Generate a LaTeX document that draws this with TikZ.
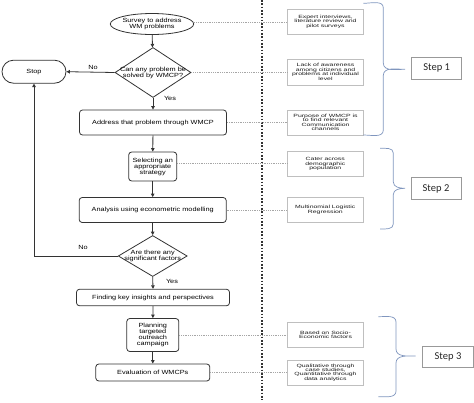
\documentclass[tikz,border=0pt]{standalone}
\usepackage{fontspec}
\usetikzlibrary{shapes.geometric,arrows.meta}
\newfontfamily\flowfont[FakeStretch=1.22]{Liberation Sans}
\newfontfamily\notefont[FakeStretch=1.5]{Liberation Sans}
\newfontfamily\stepfont{Carlito}
\definecolor{bracecol}{RGB}{128,150,190}
\begin{document}
\begin{tikzpicture}[x=1pt,y=-1pt,
  flowtext/.style={font={\flowfont\fontsize{6}{6}\selectfont}, text=black, align=center, inner sep=0pt},
  fbox/.style={flowtext, draw=black!80, line width=0.8pt, rounded corners=3pt},
  notebox/.style={draw=black!25, line width=0.6pt, minimum width=76, minimum height=25, inner sep=0pt, align=center,
    font={\notefont\fontsize{4.6}{4.45}\selectfont\lineskiplimit=-5pt\lineskip=0pt}, text=black!90},
  stepbox/.style={draw=black!40, line width=0.6pt, minimum width=50, minimum height=22, inner sep=0pt,
    font={\stepfont\fontsize{10.5}{12}\selectfont}, text=black!85},
  flowarrow/.style={draw=black!80, line width=0.8pt, -{Triangle[length=3.5pt,width=3.5pt]}},
  link/.style={draw=black!35, line width=0.5pt, dash pattern=on 0.8pt off 1pt},
  bracestyle/.style={draw=bracecol, line width=0.7pt},
  lbl/.style={font={\flowfont\fontsize{6}{6}\selectfont}, text=black, inner sep=0pt}
]
\useasboundingbox (0,0) rectangle (474,402);

% thick dotted divider
\coordinate (dtop) at (262,0);
\coordinate (dbot) at (262,400);
\draw[black!80, line width=1.6pt, dash pattern=on 1.6pt off 1.7pt] (dtop) -- (dbot);

% flowchart
\node[flowtext, draw=black!80, line width=0.8pt, ellipse, minimum width=63, minimum height=21] (survey) at (152,24) {Survey to address\\WM problems};
\node[draw=black!80, line width=0.8pt, diamond, minimum width=76, minimum height=50, inner sep=0pt] (d1) at (153,72.5) {};
\node[flowtext] (d1t) at (153,72.5) {Can any problem be\\solved by WMCP?};
\node[flowtext, draw=black!80, line width=0.8pt, rounded corners=11.5pt, minimum width=64, minimum height=23] (stop) at (34,71.7) {Stop};
\node[fbox, minimum width=147, minimum height=25] (address) at (153,122.5) {Address that problem through WMCP};
\node[fbox, minimum width=48, minimum height=29] (select) at (152.7,166.5) {Selecting an\\appropriate\\strategy};
\node[fbox, minimum width=147, minimum height=25] (analysis) at (152.7,210) {Analysis using econometric modelling};
\node[draw=black!80, line width=0.8pt, diamond, minimum width=69, minimum height=41, inner sep=0pt] (d2) at (152.7,256) {};
\node[flowtext] (d2t) at (152.7,256) {Are there any\\significant factors};
\node[fbox, minimum width=153, minimum height=16.5] (finding) at (153,297.5) {Finding key insights and perspectives};
\node[fbox, minimum width=52, minimum height=33] (planning) at (152.8,335) {Planning\\targeted\\outreach\\campaign};
\node[fbox, minimum width=114, minimum height=17] (evaluation) at (152.8,372.5) {Evaluation of  WMCPs};

\draw[flowarrow] (survey) -- (d1);
\draw[flowarrow] (d1.west) -- (stop.east);
\node[lbl] (no1) at (93,67.5) {No};
\draw[flowarrow] (d1.south) -- (address.north);
\node[lbl] (yes1) at (170,98) {Yes};
\draw[flowarrow] (address) -- (select);
\draw[flowarrow] (select) -- (analysis);
\draw[flowarrow] (analysis) -- (d2.north);
\draw[flowarrow] (d2.west) -- (stop.south |- d2.west) -- (stop.south);
\node[lbl] (no2) at (83,247.5) {No};
\draw[flowarrow] (d2.south) -- (finding.north);
\node[lbl] (yes2) at (172,281) {Yes};
\draw[flowarrow] (finding) -- (planning);
\draw[flowarrow] (planning) -- (evaluation);

% notes
\node[notebox] (n1) at (325.5,21.7) {Expert interviews,\\literature review and\\pilot surveys};
\node[notebox, minimum height=25.7] (n2) at (325.5,72) {Lack of awareness\\among citizens and\\problems at individual\\level};
\node[notebox] (n3) at (325.5,122.5) {Purpose of WMCP is\\to find relevant\\Communication\\channels};
\node[notebox] (n4) at (325.3,164) {Cater across\\demographic\\population};
\node[notebox] (n5) at (325.3,210) {Multinomial Logistic\\Regression};
\node[notebox] (n6) at (325.5,334.8) {Based on Socio-\\Economic factors};
\node[notebox] (n7) at (325.5,372.5) {Qualitative through\\case studies,\\Quantitative through\\data analytics};

\draw[link] (survey.east |- 0,22.7) -- (n1.west |- 0,22.7);
\draw[link] (d1.east) -- (d1.east -| n2.west);
\draw[link] (address.east) -- (n3.west);
\draw[link] (select.east |- 0,163.5) -- (n4.west |- 0,163.5);
\draw[link] (analysis.east) -- (analysis.east -| n5.west);
\draw[link] (planning.east) -- (planning.east -| n6.west);
\draw[link] (evaluation.east) -- (evaluation.east -| n7.west);

% braces
\draw[bracestyle] (363.3,3.3) to[out=0,in=90] (383.3,8) -- (383.3,63) to[out=-90,in=180] (405,69.3) to[out=180,in=90] (383.3,75.5) -- (383.3,130) to[out=-90,in=0] (363.3,135);
\draw[bracestyle] (380,148.3) to[out=0,in=90] (393.3,153) -- (393.3,182) to[out=-90,in=180] (405,188.3) to[out=180,in=90] (393.3,194.5) -- (393.3,224) to[out=-90,in=0] (380,229);
\draw[bracestyle] (378.3,316.7) to[out=0,in=90] (396,322) -- (396,349) to[out=-90,in=180] (415.7,356) to[out=180,in=90] (396,363) -- (396,391) to[out=-90,in=0] (378.3,396.7);

\node[stepbox] (s1) at (436.7,67.8) {Step 1};
\node[stepbox] (s2) at (436,188.5) {Step 2};
\node[stepbox, minimum width=50.7, minimum height=20.7] (s3) at (448,357) {Step 3};
\end{tikzpicture}
\end{document}
